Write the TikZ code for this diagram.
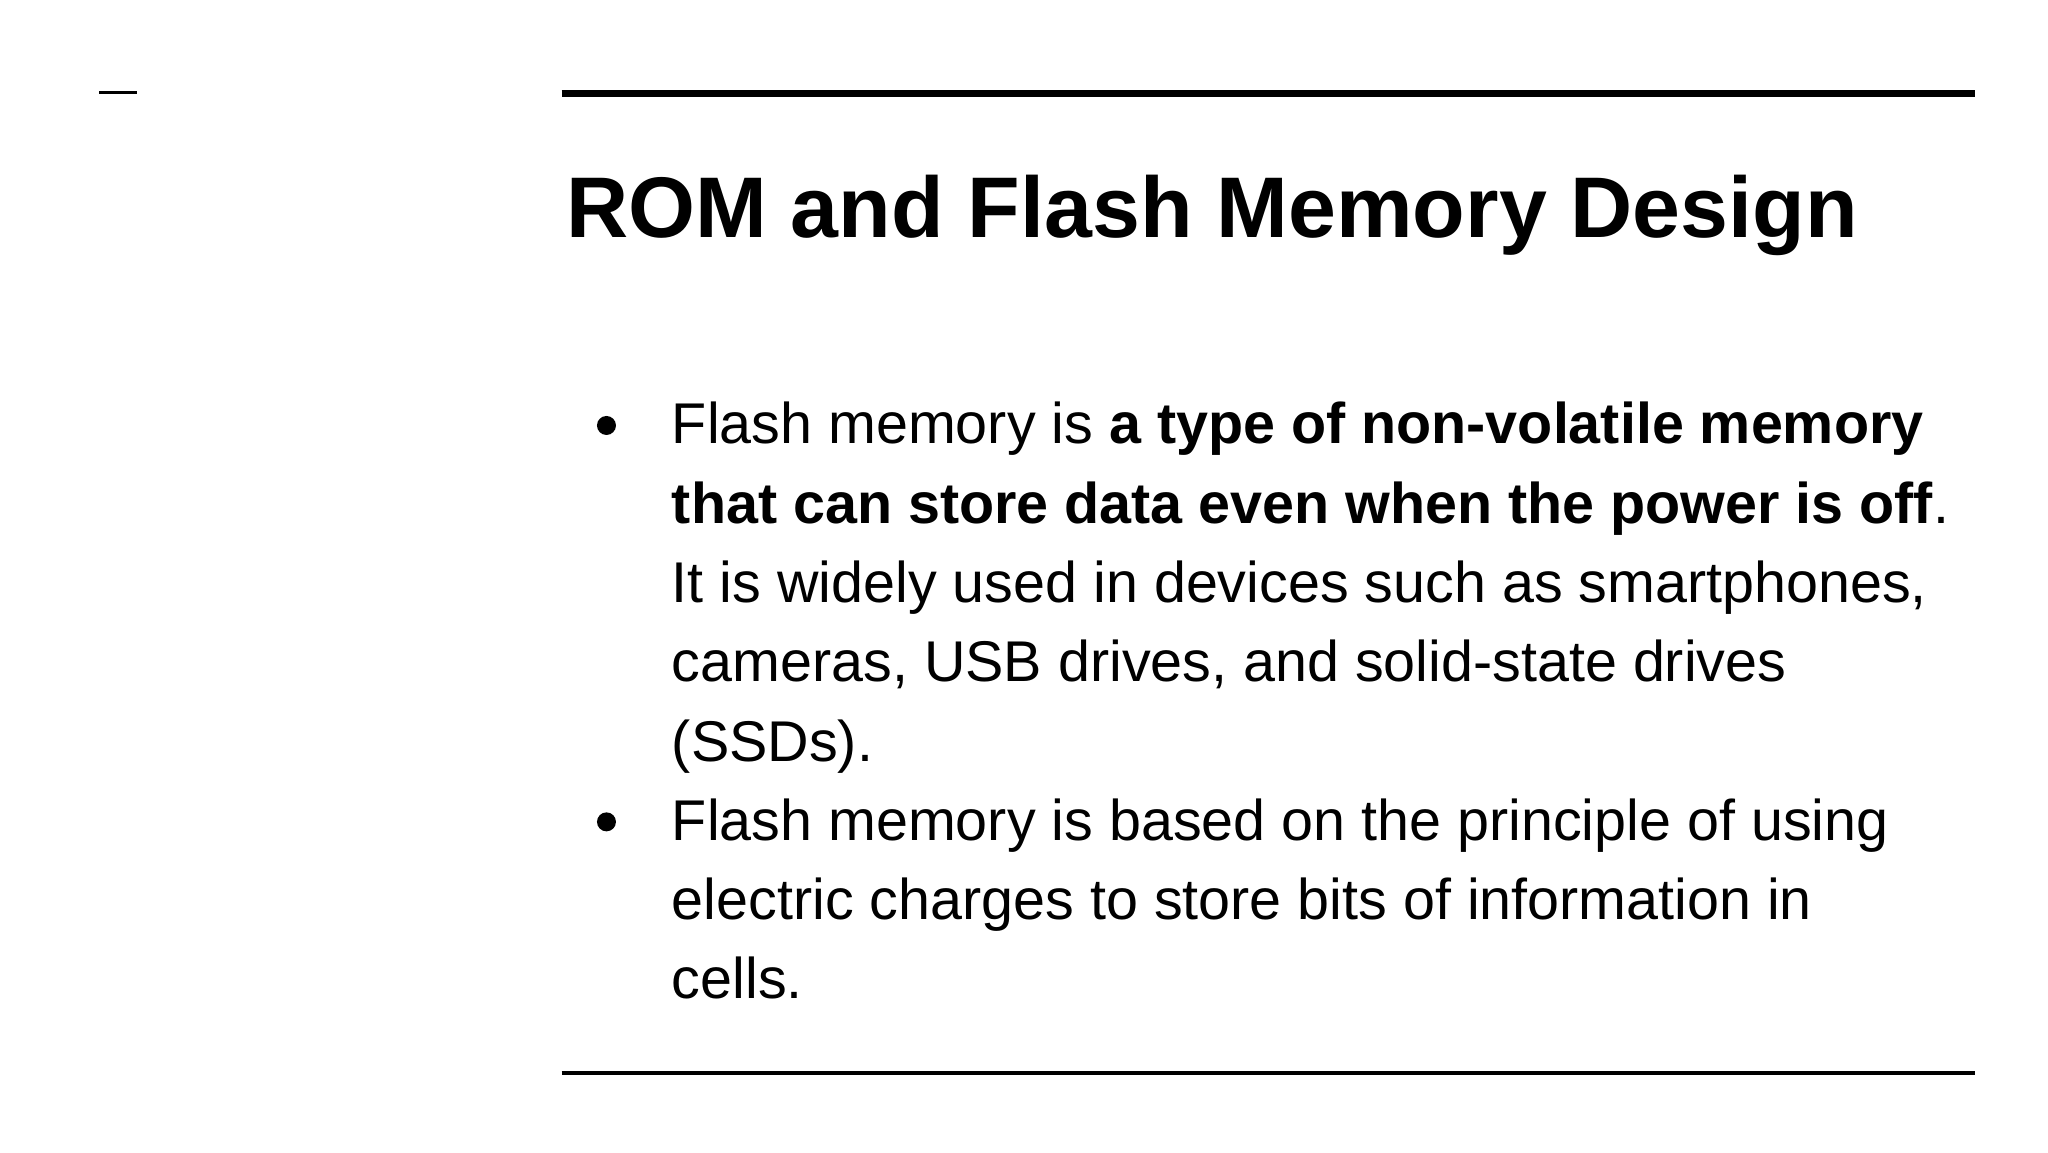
\documentclass[tikz,border=0pt]{standalone}
\usepackage{fontspec}
\setmainfont{Liberation Sans}
\usetikzlibrary{positioning}

\begin{document}
\begin{tikzpicture}[x=0.013213cm, y=-0.013213cm, inner sep=0pt]
\tikzset{txt/.style={anchor=base west, font=\fontsize{16.35}{22}\selectfont},
         dot/.style={circle, fill=black, minimum size=0.19cm}}
\useasboundingbox (0,0) rectangle (1550,872);

% rules
\coordinate (tl) at (425,71);  \coordinate (tr) at (1495,71);
\coordinate (bl) at (425,812); \coordinate (br) at (1495,812);
\coordinate (ml) at (75,70);   \coordinate (mr) at (104,70);
\draw[line width=1.9pt] (tl) -- (tr);
\draw[line width=1.1pt] (bl) -- (br);
\draw[line width=1pt] (ml) -- (mr);

\node [anchor=base west, font=\fontsize{24.5}{30}\selectfont\bfseries] (title) at (428,180) {ROM and Flash Memory Design};

% first bullet
\node [dot] (d1) at (459,322) {};
\node [txt] (a1) at (508,336) {Flash memory is \textbf{a type of non-volatile memory}};
\node [txt] (a2) at (508,396) {\textbf{that can store data even when the power is off}.};
\node [txt] (a3) at (508,456) {It is widely used in devices such as smartphones,};
\node [txt] (a4) at (508,516) {cameras, USB drives, and solid-state drives};
\node [txt] (a5) at (508,576) {(SSDs).};

% second bullet
\node [dot] (d2) at (459,622) {};
\node [txt] (b1) at (508,636) {Flash memory is based on the principle of using};
\node [txt] (b2) at (508,696) {electric charges to store bits of information in};
\node [txt] (b3) at (508,756) {cells.};
\end{tikzpicture}
\end{document}
